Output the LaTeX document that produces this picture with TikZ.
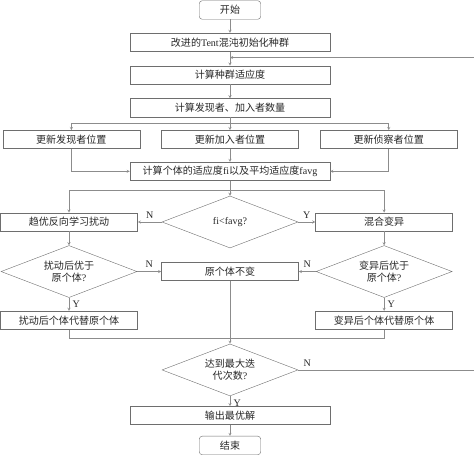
\documentclass[tikz,border=0pt]{standalone}
\usepackage{fontspec}
\setmainfont{Noto Sans CJK SC}
\newfontfamily\latin{Liberation Serif}
\usepackage{tikz}
\usetikzlibrary{positioning, shapes.geometric, arrows}
\definecolor{boxgray}{HTML}{6E6E6E}
\definecolor{linegray}{HTML}{8C8C8C}
\tikzstyle{term} = [rectangle, rounded corners=3pt, minimum width=2.15cm, minimum height=0.65cm, inner sep=1pt, text centered, draw=boxgray]
\tikzstyle{box} = [rectangle, minimum width=7cm, minimum height=0.64cm, inner sep=1pt, text centered, draw=boxgray]
\tikzstyle{sidebox} = [rectangle, minimum width=4.8cm, minimum height=0.64cm, inner sep=1pt, text centered, draw=boxgray]
\tikzstyle{choice} = [diamond, aspect=2.6, minimum width=4.76cm, minimum height=1.82cm, inner sep=0pt, align=center, draw=boxgray]
\tikzstyle{arrow} = [draw=linegray, ->, >=stealth]
\tikzstyle{line} = [draw=linegray]
\tikzstyle{yn} = [font=\latin, text=black!85]

\begin{document}
\begin{tikzpicture}[font=\fontsize{10}{12}\selectfont, text=black!85]
\clip (0,0) rectangle (16.59,-16.24);
\node (start) [term] at (8.05,-0.35) {开始};
\node (init) [box, below=0.47cm of start] {改进的{\latin Tent}混沌初始化种群};
\node (fit) [box, below=0.49cm of init] {计算种群适应度};
\node (count) [box, below=0.49cm of fit] {计算发现者、加入者数量};
\node (upd_mid) [sidebox, below=0.46cm of count] {更新加入者位置};
\node (upd_left) [sidebox, left=0.74cm of upd_mid] {更新发现者位置};
\node (upd_right) [sidebox, right=0.74cm of upd_mid] {更新侦察者位置};
\node (calc) [box, below=0.46cm of upd_mid] {计算个体的适应度{\latin fi}以及平均适应度{\latin favg}};
\node (dia1) [choice, below=0.53cm of calc] {\latin fi<favg?};
\node (side_left) [sidebox, left=0.84cm of dia1] {趋优反向学习扰动};
\node (side_right) [sidebox, right=0.6cm of dia1] {混合变异};
\node (dia2_left) [choice, below=0.49cm of side_left] {扰动后优于\\原个体{\latin ?}};
\node (dia2_right) [choice, below=0.49cm of side_right] {变异后优于\\原个体{\latin ?}};
\node (keep) [sidebox] at (dia1 |- dia2_left) {原个体不变};
\node (repl_left) [sidebox, below=0.46cm of dia2_left] {扰动后个体代替原个体};
\node (repl_right) [sidebox, below=0.46cm of dia2_right] {变异后个体代替原个体};
\node (dia3) [choice, below=2.2cm of keep] {达到最大迭\\代次数{\latin ?}};
\node (out) [box, below=0.35cm of dia3] {输出最优解};
\node (stop) [term, below=0.39cm of out] {结束};
\node (loop) [coordinate, below=0.21cm of init] {};
\node (split) [coordinate, below=0.21cm of count] {};
\node (fork) [coordinate, below=0.35cm of calc] {};
\node (merge) [coordinate, above=0.21cm of dia3] {};
\draw [arrow] (start) -- (init);
\draw [arrow] (init) -- (fit);
\draw [arrow] (fit) -- (count);
\draw [arrow] (count) -- (upd_mid);
\draw [arrow] (split) -| (upd_left);
\draw [arrow] (split) -| (upd_right);
\draw [arrow] (upd_mid) -- (calc);
\draw [arrow] (upd_left) |- (calc);
\draw [arrow] (upd_right) |- (calc);
\draw [arrow] (calc) -- (dia1);
\draw [arrow] (fork) -| (side_left);
\draw [arrow] (fork) -| (side_right);
\draw [arrow] (dia1) -- node [above, yn] {N} (side_left);
\draw [arrow] (dia1) -- node [above, yn] {Y} (side_right);
\draw [arrow] (side_left) -- (dia2_left);
\draw [arrow] (side_right) -- (dia2_right);
\draw [arrow] (dia2_left) -- node [above, yn] {N} (keep);
\draw [arrow] (dia2_right) -- node [above, yn] {N} (keep);
\draw [arrow] (dia2_left) -- node [right, yn] {Y} (repl_left);
\draw [arrow] (dia2_right) -- node [right, yn] {Y} (repl_right);
\draw [line] (repl_left) |- (merge);
\draw [line] (repl_right) |- (merge);
\draw [arrow] (keep) -- (dia3);
\draw [arrow] (dia3) -- node [right, pos=0.7, yn] {Y} (out);
\draw [arrow] (dia3.east) -- node [above, pos=0.05, yn] {N} ++(6.4cm,0) |- (loop);
\draw [arrow] (out) -- (stop);
\end{tikzpicture}
\end{document}
